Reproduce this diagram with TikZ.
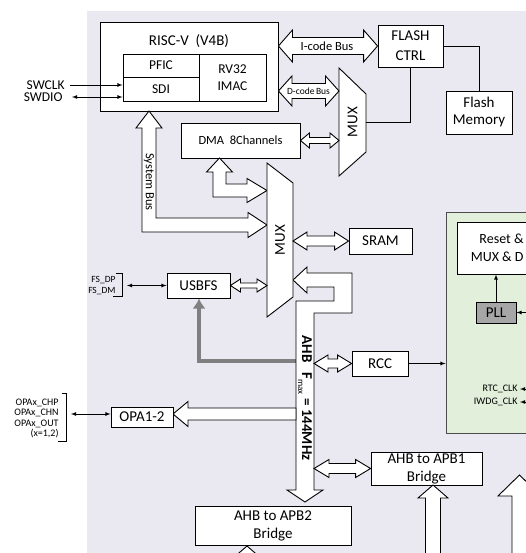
\documentclass[tikz,border=0pt]{standalone}
\usepackage{fontspec}
\setmainfont{Carlito}
\usepackage{tikz}
\usetikzlibrary{arrows}
\usetikzlibrary{arrows.meta}
\usetikzlibrary{calc}

\definecolor{chipbg}{RGB}{234,232,241}
\definecolor{clkgreen}{RGB}{226,239,218}
\definecolor{pllgray}{RGB}{166,166,166}
\definecolor{usbgray}{RGB}{128,128,128}

% hollow double arrow: from, to, half shaft, half head, head length
\newcommand{\busarrow}[5]{%
    \path [bus] let \p1=#1, \p2=#2 in
        (\x1,\y1) -- (\x1+#5pt,\y1+#4pt) -- (\x1+#5pt,\y1+#3pt) --
        (\x2-#5pt,\y1+#3pt) -- (\x2-#5pt,\y1+#4pt) -- (\x2,\y1) --
        (\x2-#5pt,\y1-#4pt) -- (\x2-#5pt,\y1-#3pt) --
        (\x1+#5pt,\y1-#3pt) -- (\x1+#5pt,\y1-#4pt) -- cycle;}

\begin{document}
\begin{tikzpicture}[x=1pt,y=-1pt,line width=0.9pt,
    blk/.style={draw,fill=white,inner sep=0pt,align=center,
        font=\fontsize{15}{18}\selectfont},
    txt/.style={inner sep=2pt,font=\fontsize{15}{18}\selectfont},
    pin/.style={inner sep=2pt,align=right,font=\fontsize{10}{10.3}\selectfont},
    bus/.style={draw,fill=white},
    sig/.style={-latex,line width=0.8pt},
    sigs/.style={latex-latex,line width=0.8pt}]
        \useasboundingbox (0,0) rectangle (526,553);
        \clip (0,0) rectangle (526,553);

        % Chip area
        \fill [chipbg] (87,11) rectangle (526,553);

        % Core
        \node [blk,minimum width=178,minimum height=89] (riscv) at (189,66.5) {};
        \node [txt] (riscvt) at (189,41) {RISC-V\ \ (V4B)};
        \node [blk,minimum width=76,minimum height=23,
            font=\fontsize{13.5}{16}\selectfont] (pfic) at (161,65.5) {PFIC};
        \node [blk,minimum width=76,minimum height=24,
            font=\fontsize{13.5}{16}\selectfont] (sdi) at (161,89) {SDI};
        \node [blk,minimum width=67,minimum height=47,
            font=\fontsize{13.5}{17}\selectfont] (rv32) at (232.5,77.5) {RV32\\IMAC};

        \node [txt,anchor=east,font=\fontsize{13.5}{16}\selectfont] (swclk) at (67,85) {SWCLK};
        \node [txt,anchor=east,font=\fontsize{13.5}{16}\selectfont] (swdio) at (65,97) {SWDIO};
        \draw [sig] ([xshift=3pt]swclk.east) -- (sdi.west |- swclk.east);
        \draw [sigs] ([xshift=7pt]swdio.east) -- (sdi.west |- swdio.east);

        % Flash
        \node [blk,minimum width=65,minimum height=42,
            font=\fontsize{15}{20}\selectfont] (flashctrl) at (410.5,46) {FLASH\\CTRL};
        \node [blk,minimum width=66,minimum height=43,
            font=\fontsize{15}{17}\selectfont] (flashmem) at (479,112.5) {Flash\\Memory};
        \draw (flashctrl.east) -| (flashmem.north);

        % Upper mux
        \coordinate (m1a) at (339,68);
        \coordinate (m1b) at (366,94);
        \coordinate (m1c) at (366,152);
        \coordinate (m1d) at (339,176);
        \path [bus] (m1a) -- (m1b) -- (m1c) -- (m1d) -- cycle;
        \node [txt,rotate=90] (mux1) at (352.5,122) {MUX};
        \coordinate (mux1r) at (366,122);
        \coordinate (dcode) at (339,91);
        \draw (flashctrl.south) |- (mux1r);

        \busarrow{(riscv.east |- flashctrl.west)}{(flashctrl.west)}{8.5}{16}{14}
        \node [txt,font=\fontsize{12.5}{14}\selectfont] (icode) at (327,46) {I-code Bus};
        \busarrow{(riscv.east |- dcode)}{(dcode)}{7.5}{15}{13.5}
        \node [txt,font=\fontsize{9.5}{11}\selectfont] (dcodel) at (308.5,91) {D-code\,Bus};

        % DMA
        \node [blk,minimum width=119,minimum height=35,
            font=\fontsize{12.5}{14}\selectfont] (dma) at (240.5,140.5) {DMA\ \ 8Channels};
        \busarrow{(dma.east)}{(dma.east -| m1a)}{3}{7.5}{9}

        % Lower mux
        \coordinate (m2a) at (267,163);
        \coordinate (m2b) at (293,183);
        \coordinate (m2c) at (293,297);
        \coordinate (m2d) at (267,317);

        % System bus
        \path [bus] (149,111) -- (162,128) -- (156,128) -- (156,218) --
            (248,218) -- (248,212.5) -- (267,225) -- (248,237.5) -- (248,232) --
            (142,232) -- (142,128) -- (136,128) -- cycle;
        \node [txt,rotate=-90,font=\fontsize{12.5}{14}\selectfont] (sysbus) at (149,182) {System Bus};

        % DMA to mux
        \path [bus] (219.5,158) -- (232.5,172) -- (226,172) -- (226,184) --
            (247,184) -- (247,178.5) -- (267,190.5) -- (247,202.5) -- (247,197) --
            (213,197) -- (213,172) -- (206.5,172) -- cycle;

        % AHB
        \coordinate (ahbl) at (296,400);
        \coordinate (ahbr) at (314,400);
        \coordinate (usbtap) at (296,361);
        \draw [usbgray,line width=4pt,-{Latex[length=10pt,width=13pt]}]
            (usbtap) -| (199,298.5);

        \path [bus] (293,280) -- (307,267) -- (307,273) -- (352,273) -- (352,313) --
            (314,313) -- (314,490) -- (323,490) -- (305,502) -- (287,490) --
            (296,490) -- (296,301) -- (334,301) -- (334,287) -- (307,287) --
            (307,293) -- cycle;
        \node [txt,rotate=-90] (ahb) at (305,398)
            {\bfseries AHB\ \ \ F\raisebox{-4pt}{\mdseries\fontsize{9}{9}\selectfont max}\ = 144MHz};

        \path [bus] (173,414) -- (188,401.5) -- (188,408) -- (296,408) --
            (296,420) -- (188,420) -- (188,426.5) -- cycle;

        \path [bus] (m2a) -- (m2b) -- (m2c) -- (m2d) -- cycle;
        \node [txt,rotate=90] (mux2) at (280,240) {MUX};

        % Peripherals on the bus
        \node [blk,minimum width=63,minimum height=26] (sram) at (380.5,241) {SRAM};
        \busarrow{(sram.west -| m2b)}{(sram.west)}{5}{9}{14}

        \node [blk,minimum width=63,minimum height=25] (usbfs) at (198.5,285.5) {USBFS};
        \busarrow{(usbfs.east)}{(usbfs.east -| m2a)}{2.5}{6.5}{10}
        \node [pin,anchor=east,font=\fontsize{9.5}{11}\selectfont] (fsio) at (118,285.5) {FS\_DP\\FS\_DM};
        \draw [line width=0.8pt] (116,273) -- (122,273) -- (122,296) -- (113,296);
        \coordinate (fsbr) at (127,285.5);
        \draw [sigs] (fsbr) -- (usbfs.west);

        \node [blk,minimum width=56,minimum height=25] (rcc) at (380,363.5) {RCC};
        \busarrow{(rcc.west -| ahbr)}{(rcc.west)}{4.5}{8.5}{14}

        \node [blk,minimum width=62,minimum height=20] (opa) at (142,417) {OPA1-2};
        \node [pin,anchor=east] (opax) at (61,418.5)
            {OPAx\_CHP\\OPAx\_CHN\\OPAx\_OUT\\(x=1,2)};
        \draw [line width=0.8pt] (62,393) -- (66,393) -- (66,441) -- (58,441);
        \coordinate (opabr) at (71,414);
        \draw [sigs] (opabr) -- (opa.west |- opabr);

        \node [blk,minimum width=111,minimum height=33] (apb1) at (426.5,468.5) {AHB to APB1\\Bridge};
        \busarrow{(apb1.west -| ahbr)}{(apb1.west)}{5}{9}{15}
        \node [blk,minimum width=156,minimum height=39] (apb2) at (273,525.5) {AHB to APB2\\Bridge};

        % APB buses
        \path [bus] (433,485) -- (448,498) -- (440.5,498) -- (440.5,565) --
            (425.5,565) -- (425.5,498) -- (418,498) -- cycle;
        \path [bus] (519.5,475) -- (541,496) -- (527,496) -- (527,565) --
            (512,565) -- (512,496) -- (498,496) -- cycle;
        \path [bus] (247,546) -- (262,559) -- (254.5,559) -- (254.5,570) --
            (239.5,570) -- (239.5,559) -- (232,559) -- cycle;

        % Clock block
        \node [draw=black!70,fill=clkgreen,minimum width=154,minimum height=221,
            inner sep=0pt] (clkbox) at (523,322.5) {};
        \draw [sig] (rcc.east) -- (clkbox.west |- rcc.east);
        \node [blk,minimum width=153,minimum height=52] (reset) at (533.5,248) {};
        \node [txt,anchor=east,inner sep=1pt,font=\fontsize{14}{16}\selectfont] (rst1) at (525,239) {Reset \&};
        \node [txt,anchor=east,inner sep=1pt,font=\fontsize{14}{16}\selectfont] (rst2) at (525,257) {MUX \& D};
        \node [blk,fill=pllgray,minimum width=40,minimum height=21] (pll) at (496,312.5) {PLL};
        \draw [sig] (pll.north) -- (reset.south -| pll.north);
        \coordinate (pllin) at (545,312.5);
        \draw [sig] (pllin) -- (pll.east);

        \node [pin,anchor=east] (rtc) at (520,389) {RTC\_CLK};
        \node [pin,anchor=east] (iwdg) at (520,402) {IWDG\_CLK};
        \coordinate (rtcin) at (545,389);
        \coordinate (iwdgin) at (545,402);
        \draw [sig] (rtcin) -- (rtc.east);
        \draw [sig] (iwdgin) -- (iwdg.east);
\end{tikzpicture}
\end{document}
